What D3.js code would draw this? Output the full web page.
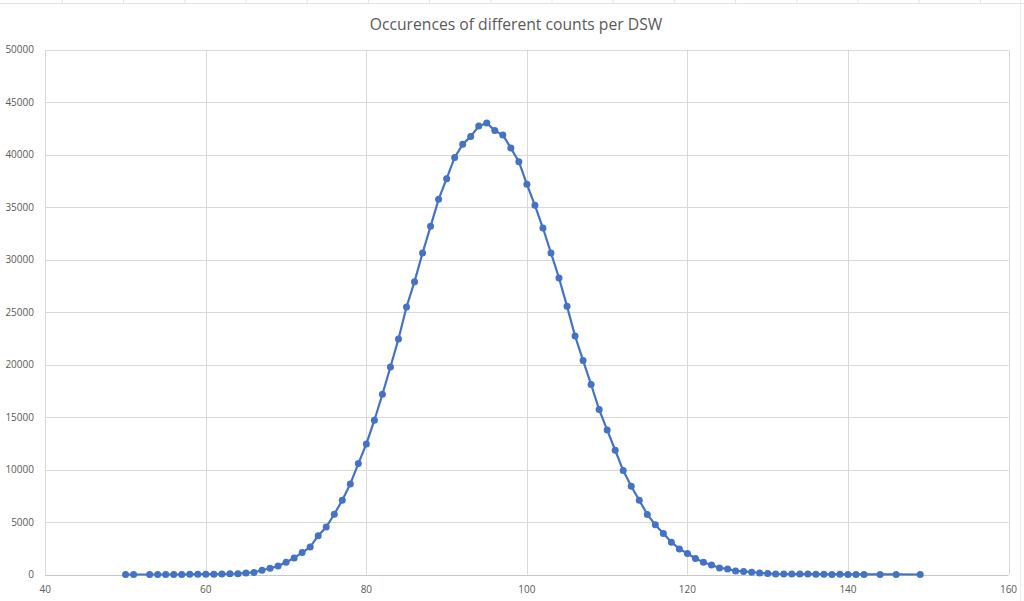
<!DOCTYPE html>
<html>
<head>
<meta charset="utf-8">
<script src="https://cdn.jsdelivr.net/npm/d3@7"></script>
<style>
  body { margin: 0; background: #fff; }
  svg { display: block; }
</style>
</head>
<body>
<div id="chart"></div>
<script>
// counts per DSW (x) and how often each one occurs (y)
var counts = [50,51,53,54,55,56,57,58,59,60,61,62,63,64,65,66,67,68,69,70,
  71,72,73,74,75,76,77,78,79,80,81,82,83,84,85,86,87,88,89,90,
  91,92,93,94,95,96,97,98,99,100,101,102,103,104,105,106,107,108,109,110,
  111,112,113,114,115,116,117,118,119,120,121,122,123,124,125,126,127,128,129,130,
  131,132,133,134,135,136,137,138,139,140,141,142,144,146,149];
var occurrences = [0,0,0,0,0,0,0,20,30,30,30,40,70,80,150,200,400,600,800,1170,
  1580,2090,2620,3700,4520,5740,7080,8630,10570,12440,14700,17170,19770,22440,25490,27900,30630,33170,35740,37710,
  39740,40980,41740,42720,43010,42290,41870,40630,39330,37170,35170,33010,30630,28250,25550,22730,20380,18100,15710,13770,
  11840,9900,8410,7080,5720,4730,3900,3080,2440,2000,1520,1170,910,630,530,340,290,220,150,100,
  50,50,40,40,40,30,30,10,30,10,10,10,5,5,0];
var xTicks = [40,60,80,100,120,140,160];
var yTicks = [0,5000,10000,15000,20000,25000,30000,35000,40000,45000,50000];
var title = "Occurences of different counts per DSW";

var W = 1024, H = 601;
var lineColor = "#4472c4";
var gridColor = "#d9d9d9";
var textColor = "#595959";

var svg = d3.select("#chart").append("svg")
    .attr("width", W)
    .attr("height", H);

// faint spreadsheet cells peeking in at the top
var cellEdges = d3.range(1, 17).map(function (i) { return 1.2 + i * 61.2; });
svg.append("line").attr("x1", 0).attr("x2", W).attr("y1", 3.5).attr("y2", 3.5)
    .attr("stroke", "#e3e3e3");
svg.selectAll(".cell").data(cellEdges).enter().append("line")
    .attr("x1", d => d).attr("x2", d => d).attr("y1", 0).attr("y2", 3.5)
    .attr("stroke", "#e3e3e3");
svg.append("line").attr("x1", 1020.5).attr("x2", 1020.5).attr("y1", 0).attr("y2", H)
    .attr("stroke", "#ececec");

var x = d3.scaleLinear().domain([40, 160]).range([45.3, 1008.5]);
var y = d3.scaleLinear().domain([0, 50000]).range([574.5, 49.7]);

// gridlines
svg.append("g").selectAll("line").data(yTicks.slice(1)).enter().append("line")
    .attr("x1", x(40)).attr("x2", x(160))
    .attr("y1", d => Math.round(y(d)) + 0.5).attr("y2", d => Math.round(y(d)) + 0.5)
    .attr("stroke", gridColor);
svg.append("g").selectAll("line").data(xTicks).enter().append("line")
    .attr("x1", d => Math.round(x(d)) + 0.5).attr("x2", d => Math.round(x(d)) + 0.5)
    .attr("y1", y(50000)).attr("y2", y(0))
    .attr("stroke", gridColor);
svg.append("line")
    .attr("x1", x(40)).attr("x2", x(160))
    .attr("y1", Math.round(y(0)) + 0.5).attr("y2", Math.round(y(0)) + 0.5)
    .attr("stroke", "#c8c8c8");

// axis labels
svg.append("g").selectAll("text").data(yTicks).enter().append("text")
    .attr("x", 34)
    .attr("y", d => y(d))
    .attr("dy", "0.35em")
    .attr("text-anchor", "end")
    .style("font-family", "'Open Sans', sans-serif")
    .style("font-size", "10px")
    .style("fill", textColor)
    .text(d => d);
svg.append("g").selectAll("text").data(xTicks).enter().append("text")
    .attr("x", d => x(d))
    .attr("y", 589)
    .attr("dy", "0.35em")
    .attr("text-anchor", "middle")
    .style("font-family", "'Open Sans', sans-serif")
    .style("font-size", "10px")
    .style("fill", textColor)
    .text(d => d);

svg.append("text")
    .attr("x", 516)
    .attr("y", 25)
    .attr("dy", "0.35em")
    .attr("text-anchor", "middle")
    .style("font-family", "'Open Sans', sans-serif")
    .style("font-size", "15.7px")
    .style("fill", textColor)
    .text(title);

// the series
var points = counts.map(function (c, i) { return [c, occurrences[i]]; });

var line = d3.line()
    .x(d => x(d[0]))
    .y(d => y(d[1]));

svg.append("path")
    .datum(points)
    .attr("d", line)
    .attr("fill", "none")
    .attr("stroke", lineColor)
    .attr("stroke-width", 2.2);

svg.append("g").selectAll("circle").data(points).enter().append("circle")
    .attr("cx", d => x(d[0]))
    .attr("cy", d => y(d[1]))
    .attr("r", 3.5)
    .attr("fill", lineColor);
</script>
</body>
</html>
